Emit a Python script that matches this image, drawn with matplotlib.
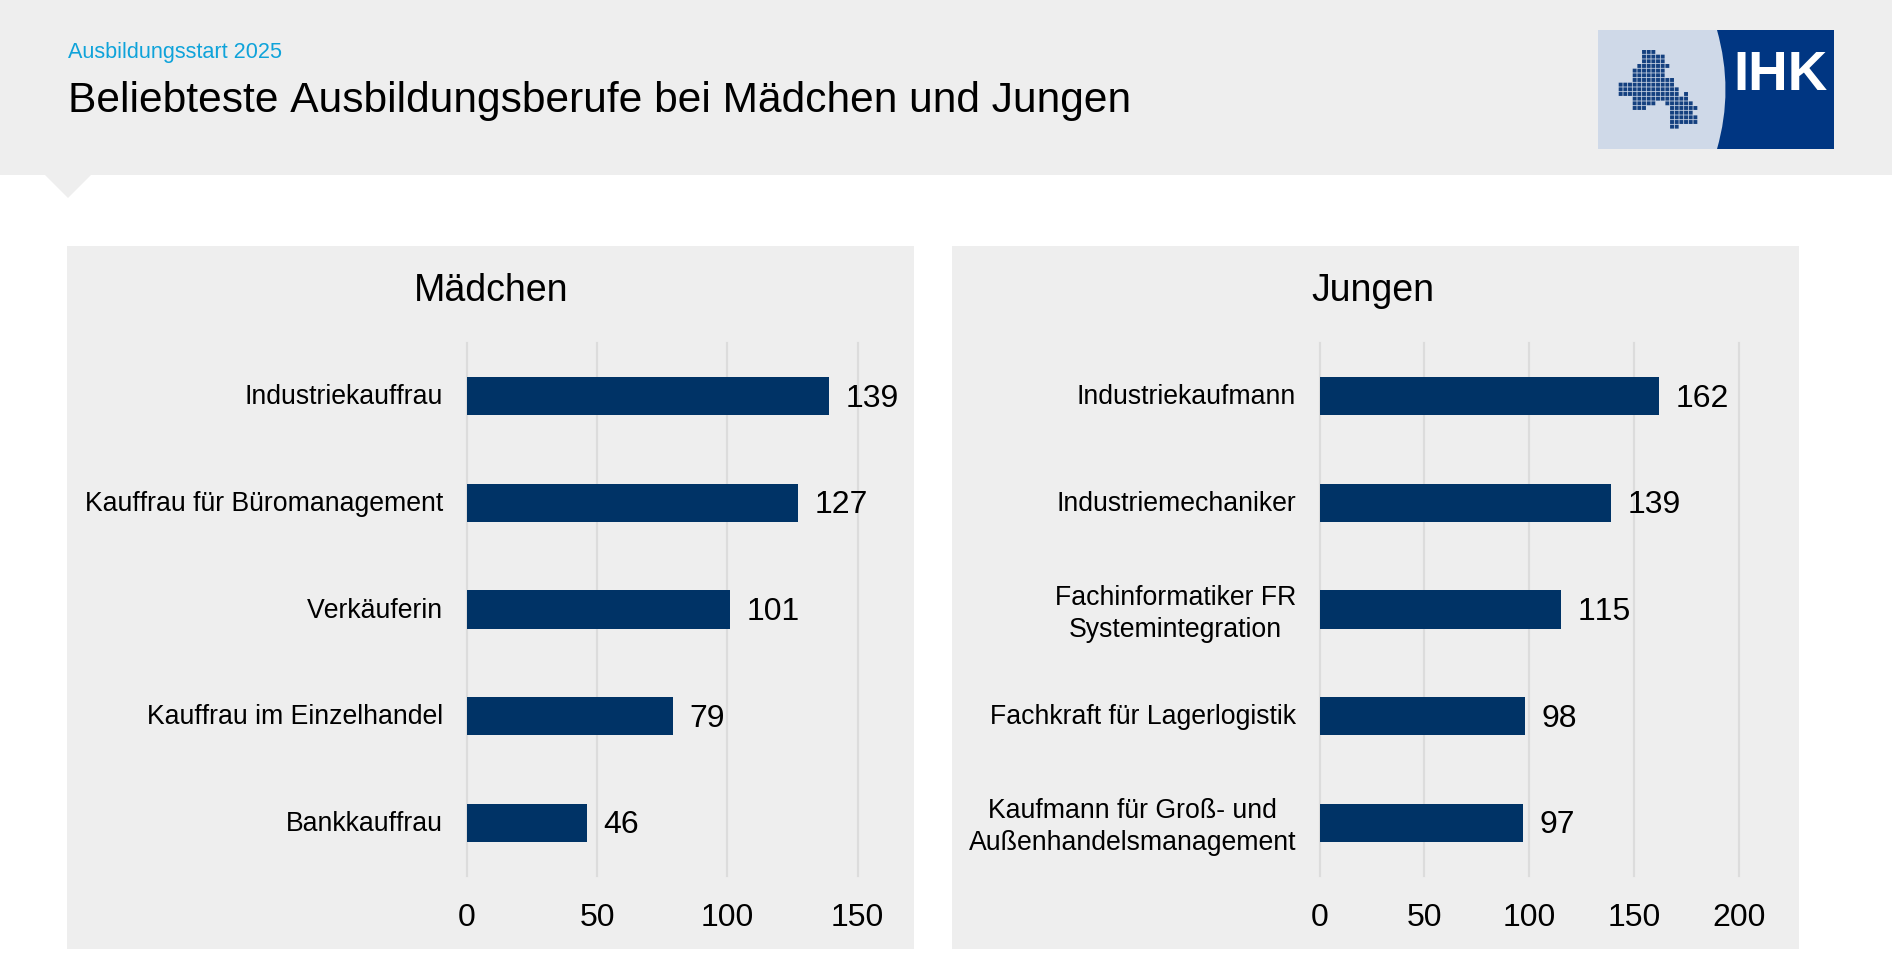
import matplotlib
matplotlib.use('Agg')
import matplotlib.pyplot as plt
from matplotlib.patches import Rectangle, Polygon, PathPatch
from matplotlib.path import Path
from matplotlib.transforms import ScaledTranslation

plt.rcParams['font.family'] = ['Liberation Sans', 'DejaVu Sans']
plt.rcParams['text.kerning_factor'] = 6

# data
girls_jobs = ['Industriekauffrau', 'Kauffrau für Büromanagement', 'Verkäuferin',
              'Kauffrau im Einzelhandel', 'Bankkauffrau']
girls_values = [139, 127, 101, 79, 46]
girls_ticks = [0, 50, 100, 150]

boys_jobs = ['Industriekaufmann', 'Industriemechaniker',
             'Fachinformatiker FR\nSystemintegration',
             'Fachkraft für Lagerlogistik',
             'Kaufmann für Groß- und\nAußenhandelsmanagement']
boys_values = [162, 139, 115, 98, 97]
boys_ticks = [0, 50, 100, 150, 200]

# column ranges per row of the little map in the logo
logo_rows = [[(5, 7)], [(5, 9)], [(5, 9)], [(4, 10)], [(3, 9)], [(3, 9)], [(3, 11)],
             [(0, 11)], [(0, 12)], [(0, 12), (14, 14)], [(3, 14)], [(3, 7), (10, 15)],
             [(3, 5), (11, 16)], [(11, 15)], [(11, 16)], [(11, 16)], [(11, 12)]]

W, H = 1892, 976
GREY = '#eeeeee'
NAVY = '#003366'

fig = plt.figure(figsize=(W / 100, H / 100), dpi=100, facecolor='white')

# background layer in pixel coordinates
bg = fig.add_axes([0, 0, 1, 1], zorder=0)
bg.set_xlim(0, W)
bg.set_ylim(H, 0)
bg.axis('off')

bg.add_patch(Rectangle((0, 0), W, 175, fc=GREY, ec='none'))
bg.add_patch(Polygon([(45, 175), (91, 175), (68, 198)], fc=GREY, ec='none'))
bg.add_patch(Rectangle((66.5, 246), 847.5, 703, fc=GREY, ec='none'))
bg.add_patch(Rectangle((952, 246), 847, 703, fc=GREY, ec='none'))

bg.text(67.5, 58, 'Ausbildungsstart 2025', color='#0fa3da', fontsize=15.6, va='baseline')
bg.text(67.5, 112, 'Beliebteste Ausbildungsberufe bei Mädchen und Jungen',
        color='black', fontsize=30.6, va='baseline')
bg.text(491, 291, 'Mädchen', fontsize=27, ha='center', va='center')
bg.text(1373, 291, 'Jungen', fontsize=27, ha='center', va='center')

# logo
bg.add_patch(Rectangle((1598, 30), 236, 119, fc='#003682', ec='none'))
arc = Path([(1598, 30), (1717, 30), (1734, 90), (1717, 149), (1598, 149), (1598, 30)],
           [Path.MOVETO, Path.LINETO, Path.CURVE3, Path.CURVE3, Path.LINETO, Path.CLOSEPOLY])
bg.add_patch(PathPatch(arc, fc='#cfd9e8', ec='none'))
for r, row in enumerate(logo_rows):
    for c0, c1 in row:
        for c in range(c0, c1 + 1):
            bg.add_patch(Rectangle((1618.7 + c * 4.67, 50 + r * 4.67), 3.9, 3.9,
                                   fc='#14407f', ec='none', snap=False))
bg.text(1780.5, 90, 'IHK', color='white', fontsize=39.5, fontweight='bold',
        ha='center', va='baseline')


def draw(left, right, jobs, values, ticks):
    """One panel with horizontal bars"""
    ax = fig.add_axes([left / W, 1 - 876 / H, (right - left) / W, (876 - 343) / H],
                      zorder=1)
    ax.patch.set_visible(False)
    bars = ax.barh(jobs, values, height=0.36, color=NAVY, zorder=3)
    for t in ax.bar_label(bars, padding=12, fontsize=23):
        t.xyann = (12, -1.8)
    ax.set_xlim(ticks[0], ticks[-1])
    ax.set_ylim(len(jobs) - 0.5, -0.5)
    ax.set_xticks(ticks)
    ax.grid(axis='x', color='#dcdcdc', linewidth=1.6, zorder=1)
    ax.set_axisbelow(True)
    ax.grid(axis='y', visible=False)
    for g in ax.get_xgridlines():
        g.set_clip_on(False)
    for s in ax.spines.values():
        s.set_visible(False)
    ax.tick_params(axis='x', length=0, labelsize=23, pad=19.5)
    ax.tick_params(axis='y', length=0, labelsize=19.15, pad=17)
    # labels sit a little higher than the bar centre
    up = ScaledTranslation(0, 1.3 / 72, fig.dpi_scale_trans)
    for t in ax.get_yticklabels():
        t.set_multialignment('center')
        t.set_linespacing(1.3)
        t.set_transform(t.get_transform() + up)
    return ax


draw(466.7, 857.6, girls_jobs, girls_values, girls_ticks)
draw(1319.6, 1739, boys_jobs, boys_values, boys_ticks)

fig.savefig('out.png', dpi=100)
